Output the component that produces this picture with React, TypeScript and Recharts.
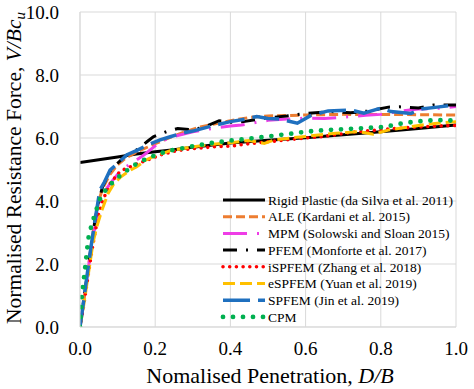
import React from 'react';
import { LineChart, Line, XAxis, YAxis, CartesianGrid, Legend } from 'recharts';

const xTicks = [0, 0.2, 0.4, 0.6, 0.8, 1.0];
const yTicks = [0, 2, 4, 6, 8, 10];

const rigidPlastic = [[0,5.22],[0.05,5.31],[0.1,5.4],[0.15,5.49],[0.2,5.56],[0.25,5.63],[0.3,5.71],[0.4,5.84],[0.5,5.93],[0.6,6.01],[0.7,6.1],[0.8,6.2],[0.9,6.3],[1.0,6.41]];
const ale = [[0,0],[0.01,0.8],[0.02,1.7],[0.03,2.6],[0.04,3.4],[0.05,4.0],[0.06,4.4],[0.08,4.85],[0.1,5.15],[0.12,5.35],[0.15,5.55],[0.2,5.82],[0.24,6.02],[0.28,6.2],[0.32,6.35],[0.36,6.45],[0.4,6.55],[0.45,6.65],[0.5,6.7],[0.6,6.73],[0.7,6.75],[0.8,6.75],[0.9,6.74],[1.0,6.73]];
const mpm = [[0,0],[0.01,0.8],[0.02,1.7],[0.03,2.5],[0.04,3.2],[0.05,3.85],[0.06,4.2],[0.08,4.55],[0.1,4.85],[0.124,5.1],[0.15,5.3],[0.17,5.46],[0.2,5.75],[0.213,5.88],[0.25,6.05],[0.3,6.2],[0.35,6.3],[0.4,6.38],[0.43,6.41],[0.47,6.5],[0.5,6.56],[0.55,6.6],[0.6,6.63],[0.65,6.62],[0.7,6.66],[0.76,6.72],[0.8,6.75],[0.85,6.85],[0.9,6.92],[0.96,6.95],[1.0,7.0]];
const pfem = [[0,0],[0.01,0.85],[0.02,1.7],[0.03,2.6],[0.04,3.4],[0.05,4.0],[0.06,4.45],[0.08,4.95],[0.1,5.2],[0.12,5.42],[0.15,5.62],[0.178,5.88],[0.195,6.04],[0.23,6.2],[0.26,6.3],[0.3,6.26],[0.33,6.35],[0.37,6.55],[0.4,6.5],[0.435,6.52],[0.49,6.63],[0.55,6.7],[0.6,6.78],[0.67,6.84],[0.72,6.8],[0.77,6.86],[0.82,6.98],[0.85,6.99],[0.9,6.95],[0.94,7.05],[1.0,7.05]];
const ispfem = [[0,0],[0.01,0.7],[0.02,1.5],[0.03,2.3],[0.04,3.0],[0.05,3.6],[0.06,4.0],[0.08,4.55],[0.107,4.95],[0.133,5.08],[0.16,5.22],[0.18,5.3],[0.213,5.46],[0.258,5.6],[0.3,5.66],[0.355,5.72],[0.4,5.74],[0.45,5.82],[0.5,5.88],[0.55,5.94],[0.6,6.0],[0.64,6.04],[0.68,6.1],[0.72,6.18],[0.78,6.24],[0.835,6.3],[0.9,6.35],[0.95,6.38],[1.0,6.4]];
const espfem = [[0,0],[0.01,0.7],[0.02,1.5],[0.035,2.7],[0.045,3.2],[0.058,3.7],[0.075,4.25],[0.09,4.55],[0.107,4.75],[0.13,4.95],[0.151,5.09],[0.175,5.3],[0.195,5.41],[0.24,5.6],[0.3,5.72],[0.35,5.8],[0.4,5.85],[0.45,5.92],[0.49,5.83],[0.52,5.95],[0.6,6.05],[0.68,6.15],[0.74,6.2],[0.78,6.12],[0.82,6.25],[0.9,6.4],[0.95,6.47],[1.0,6.52]];
const spfem = [[0,0],[0.01,0.85],[0.02,1.75],[0.03,2.6],[0.04,3.4],[0.053,4.35],[0.065,4.6],[0.08,4.98],[0.11,5.3],[0.124,5.46],[0.15,5.6],[0.18,5.78],[0.213,5.94],[0.24,6.04],[0.27,6.15],[0.3,6.22],[0.35,6.38],[0.4,6.52],[0.44,6.6],[0.47,6.68],[0.5,6.62],[0.53,6.6],[0.578,6.47],[0.613,6.71],[0.66,6.86],[0.72,6.89],[0.755,6.79],[0.8,6.95],[0.827,6.84],[0.86,6.8],[0.88,6.78],[0.907,6.92],[0.95,6.98],[1.0,7.05]];
const cpm = [[0,0],[0.005,1.0],[0.013,1.8],[0.022,2.8],[0.03,3.2],[0.04,3.6],[0.053,4.05],[0.071,4.4],[0.093,4.67],[0.115,4.88],[0.138,5.09],[0.16,5.25],[0.187,5.39],[0.213,5.51],[0.24,5.6],[0.267,5.66],[0.3,5.74],[0.35,5.84],[0.4,5.92],[0.45,5.98],[0.5,6.05],[0.55,6.12],[0.6,6.2],[0.65,6.25],[0.7,6.28],[0.75,6.31],[0.81,6.35],[0.85,6.45],[0.89,6.52],[0.95,6.57],[1.0,6.55]];

const toRows = (pts: number[][]) => pts.map(([x, y]) => ({ x, y }));

const series = [
  { name: 'Rigid Plastic (da Silva et al. 2011)', pts: rigidPlastic, color: '#000000', width: 3, dash: undefined as string | undefined, cap: 'butt' },
  { name: 'ALE (Kardani et al. 2015)', pts: ale, color: '#ED7D31', width: 3, dash: '9 4', cap: 'butt' },
  { name: 'MPM (Solowski and Sloan 2015)', pts: mpm, color: '#EE3DE6', width: 3, dash: '24 10 2 10', cap: 'butt' },
  { name: 'PFEM (Monforte et al. 2017)', pts: pfem, color: '#000000', width: 3, dash: '14 9 2 9', cap: 'butt' },
  { name: 'iSPFEM (Zhang et al. 2018)', pts: ispfem, color: '#FF0000', width: 3.6, dash: '0 6.7', cap: 'round' },
  { name: 'eSPFEM (Yuan et al. 2019)', pts: espfem, color: '#FFC000', width: 3, dash: '12 5', cap: 'butt' },
  { name: 'SPFEM (Jin et al. 2019)', pts: spfem, color: '#1F70BF', width: 3.5, dash: '27 8', cap: 'butt' },
  { name: 'CPM', pts: cpm, color: '#00B050', width: 4.8, dash: '0 10', cap: 'round' },
];

const FONT = "'Liberation Serif', 'Times New Roman', Tinos, 'DejaVu Serif', serif";

const LegendBox = () => (
  <svg width={250} height={140} style={{ display: 'block', overflow: 'visible' }}>
    {series.map((s, i) => {
      const y = 8 + i * 16.7;
      return (
        <g key={s.name}>
          <line x1={5} x2={47} y1={y} y2={y} stroke={s.color} strokeWidth={s.width}
            strokeDasharray={s.dash} strokeLinecap={s.cap as any} />
          <text x={50} y={y} dy="0.35em" style={{ fontFamily: FONT, fontSize: 13.5 }} fill="#000">{s.name}</text>
        </g>
      );
    })}
  </svg>
);

const XTitle = () => (
  <text x={270} y={383} textAnchor="middle" style={{ fontFamily: FONT, fontSize: 22 }} fill="#000">
    Nomalised Penetration, <tspan fontStyle="italic">D/B</tspan>
  </text>
);

const YTitle = () => (
  <text x={0} y={0} transform="translate(21,168) rotate(-90)" textAnchor="middle" style={{ fontFamily: FONT, fontSize: 21.5 }} fill="#000">
    Normalised Resistance Force, <tspan fontStyle="italic">V/Bc</tspan><tspan fontStyle="italic" style={{ fontSize: 15 }} dy={4}>u</tspan>
  </text>
);

const tickStyle = { fontFamily: FONT, fontSize: 19, fill: '#000' };

export default function App() {
  return (
    <div style={{ position: 'absolute', left: 0, top: 0, width: 474, height: 389, background: '#fff', fontFamily: FONT }}>
      <LineChart width={474} height={389} margin={{ top: 12, right: 18, bottom: 0, left: 0 }} style={{ fontFamily: FONT }}>
        <CartesianGrid stroke="#d9d9d9" strokeWidth={1} />
        <XAxis type="number" dataKey="x" domain={[0, 1]} ticks={xTicks} height={62}
          tickFormatter={(v: number) => v.toFixed(1)} tickLine={false} tickSize={6} tickMargin={9}
          axisLine={{ stroke: '#d9d9d9' }} allowDataOverflow
          tick={{ ...tickStyle, style: { fontFamily: FONT } }}
          label={<XTitle />} />
        <YAxis type="number" domain={[0, 10]} ticks={yTicks} width={80}
          tickFormatter={(v: number) => v.toFixed(1)} tickLine={false} tickSize={6} tickMargin={15}
          axisLine={{ stroke: '#d9d9d9' }} allowDataOverflow
          tick={{ ...tickStyle, style: { fontFamily: FONT } }}
          label={<YTitle />} />
        <Legend layout="vertical" align="center" verticalAlign="middle"
          wrapperStyle={{ left: 218, top: 192, width: 250 }} content={() => <LegendBox />} />
        {series.map((s) => (
          <Line key={s.name} name={s.name} data={toRows(s.pts)} dataKey="y" type="linear"
            stroke={s.color} strokeWidth={s.width} strokeDasharray={s.dash}
            strokeLinecap={s.cap as any} dot={false} activeDot={false}
            isAnimationActive={false} />
        ))}
      </LineChart>
    </div>
  );
}
